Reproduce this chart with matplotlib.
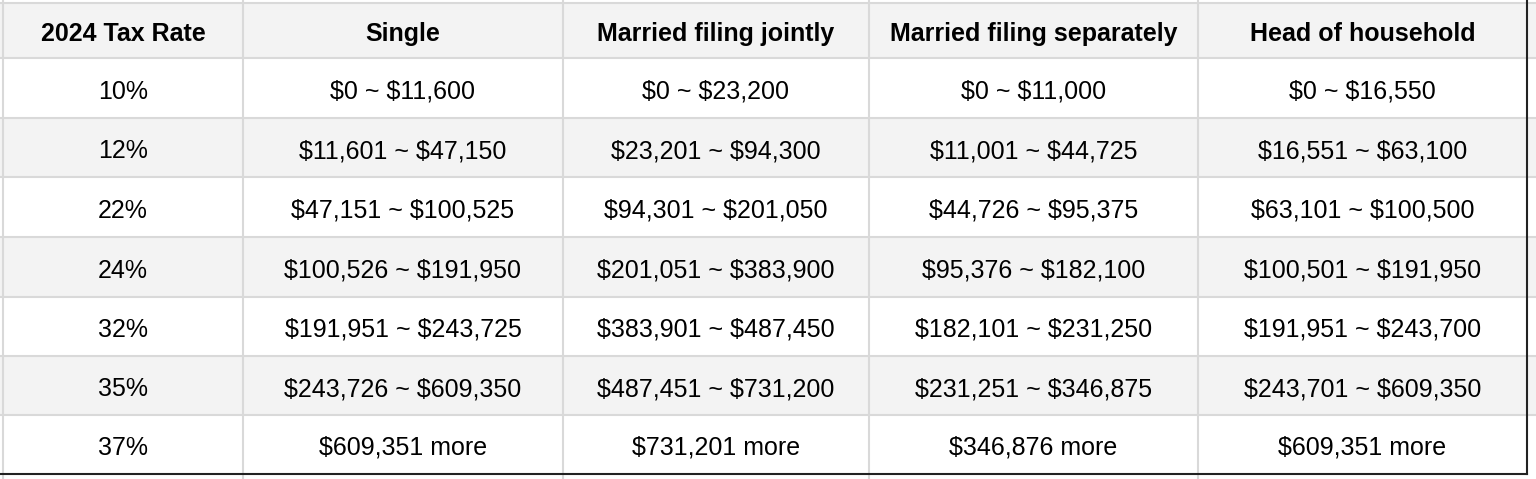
import matplotlib.pyplot as plt
from matplotlib.patches import Rectangle

headers = ["2024 Tax Rate", "Single", "Married filing jointly",
           "Married filing separately", "Head of household"]
rates = ["10%", "12%", "22%", "24%", "32%", "35%", "37%"]
single = ["$0 ~ $11,600", "$11,601 ~ $47,150", "$47,151 ~ $100,525",
          "$100,526 ~ $191,950", "$191,951 ~ $243,725", "$243,726 ~ $609,350",
          "$609,351 more"]
joint = ["$0 ~ $23,200", "$23,201 ~ $94,300", "$94,301 ~ $201,050",
         "$201,051 ~ $383,900", "$383,901 ~ $487,450", "$487,451 ~ $731,200",
         "$731,201 more"]
separate = ["$0 ~ $11,000", "$11,001 ~ $44,725", "$44,726 ~ $95,375",
            "$95,376 ~ $182,100", "$182,101 ~ $231,250", "$231,251 ~ $346,875",
            "$346,876 more"]
head = ["$0 ~ $16,550", "$16,551 ~ $63,100", "$63,101 ~ $100,500",
        "$100,501 ~ $191,950", "$191,951 ~ $243,700", "$243,701 ~ $609,350",
        "$609,351 more"]

# layout in pixels
col_edges = [3, 243, 563, 869, 1198, 1527]
row_edges = [3, 58, 118, 177, 237, 297, 356, 415, 474]

plt.rcParams['font.family'] = ['Liberation Sans', 'DejaVu Sans']
plt.rcParams['text.parse_math'] = False

fig = plt.figure(figsize=(15.36, 4.79), dpi=100)
ax = fig.add_axes([0, 0, 1, 1])
ax.set_xlim(0, 1536)
ax.set_ylim(479, 0)
ax.axis('off')

columns = [rates, single, joint, separate, head]
for r in range(len(row_edges) - 1):
    y0, y1 = row_edges[r], row_edges[r + 1]
    fill = '#f3f3f3' if r % 2 == 0 else 'white'
    ax.add_patch(Rectangle((0, y0), 1536, y1 - y0, color=fill, zorder=0))
    for c in range(len(columns)):
        xc = (col_edges[c] + col_edges[c + 1]) / 2
        yc = (y0 + y1) / 2 + 1
        if r == 0:
            ax.text(xc, yc, headers[c], ha='center', va='center_baseline',
                    fontsize=18, fontweight='bold', color='black')
        else:
            ax.text(xc, yc, columns[c][r - 1], ha='center', va='center_baseline',
                    fontsize=18, color='black')

for x in col_edges[:-1]:
    ax.plot([x, x], [0, 479], color='#d9d9d9', lw=1.5, zorder=1)
for y in row_edges[:-1]:
    ax.plot([0, 1536], [y, y], color='#d9d9d9', lw=1.5, zorder=1)
ax.plot([1527, 1527], [0, 474], color='#222222', lw=1.5, zorder=2)
ax.plot([0, 1527], [474, 474], color='#222222', lw=1.5, zorder=2)

fig.savefig('out.png', dpi=100)
